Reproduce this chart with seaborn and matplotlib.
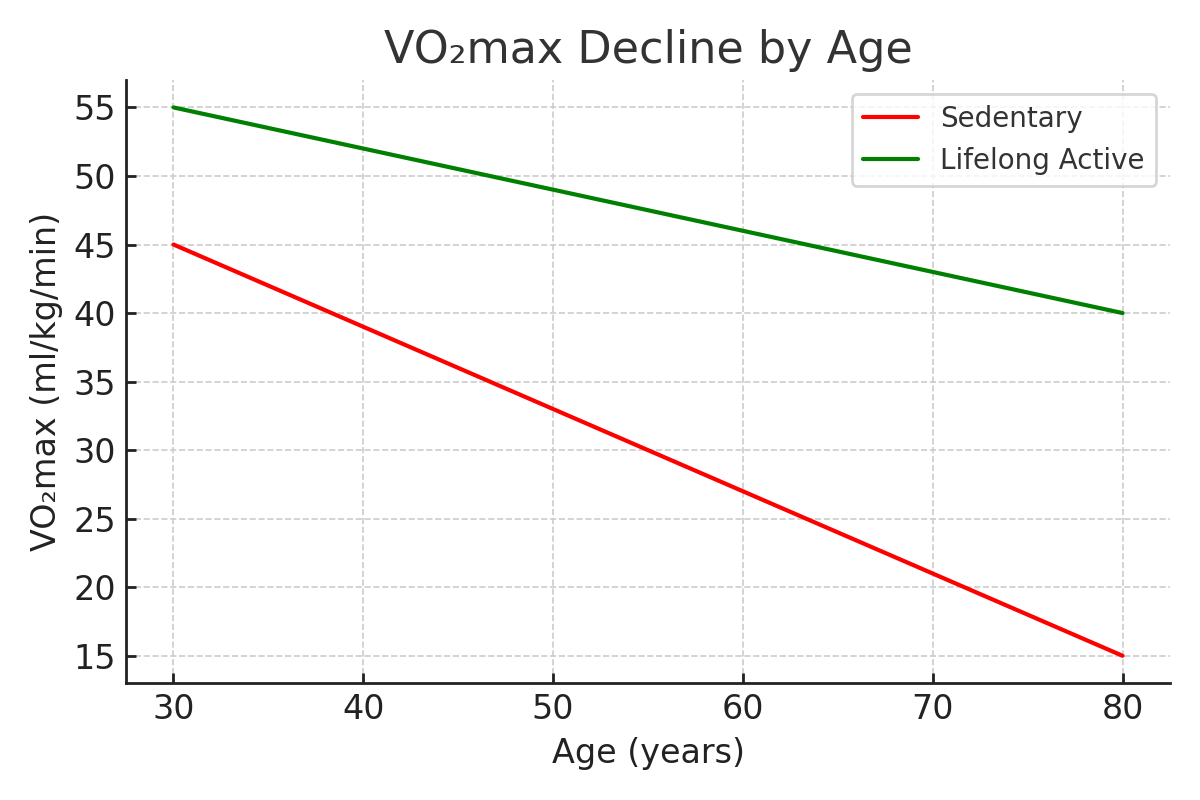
import matplotlib
matplotlib.use('Agg')
import matplotlib.pyplot as plt
import pandas as pd
import seaborn as sns

AGES = [30, 40, 50, 60, 70, 80]
SEDENTARY = [45, 39, 33, 27, 21, 15]
LIFELONG_ACTIVE = [55, 52, 49, 46, 43, 40]
SERIES = ['Sedentary', 'Lifelong Active']
COLORS = ['red', 'green']
Y_TICKS = [15, 20, 25, 30, 35, 40, 45, 50, 55]

sns.set_theme(style='ticks')
plt.rcParams['font.family'] = ['DejaVu Sans']

df = pd.DataFrame({
    'Age': AGES * 2,
    'VO2max': SEDENTARY + LIFELONG_ACTIVE,
    'Group': [SERIES[0]] * len(AGES) + [SERIES[1]] * len(AGES),
})

fig, ax = plt.subplots(figsize=(6, 4), dpi=200)
sns.lineplot(
    data=df, x='Age', y='VO2max', hue='Group',
    palette=dict(zip(SERIES, COLORS)), linewidth=1.5, ax=ax,
)

ax.set_title('VO₂max Decline by Age', fontsize=16, color='#333333')
ax.set_xlabel('Age (years)', fontsize=12, color='#222222')
ax.set_ylabel('VO₂max (ml/kg/min)', fontsize=12, color='#222222')
ax.set_yticks(Y_TICKS)
ax.tick_params(direction='in', labelsize=12, colors='#222222', length=3.5, width=1)
ax.grid(True, linestyle='--', color='#cccccc', linewidth=0.6)
sns.despine(ax=ax)
for s in ('left', 'bottom'):
    ax.spines[s].set_color('#222222')
    ax.spines[s].set_linewidth(1)

leg = ax.legend(title=None, fontsize=10, loc='upper right', frameon=True)
for t in leg.get_texts():
    t.set_color('#333333')
leg.get_frame().set_edgecolor('#cccccc')

fig.subplots_adjust(left=0.105, right=0.975, top=0.9, bottom=0.146)
fig.savefig('out.png', dpi=200)
